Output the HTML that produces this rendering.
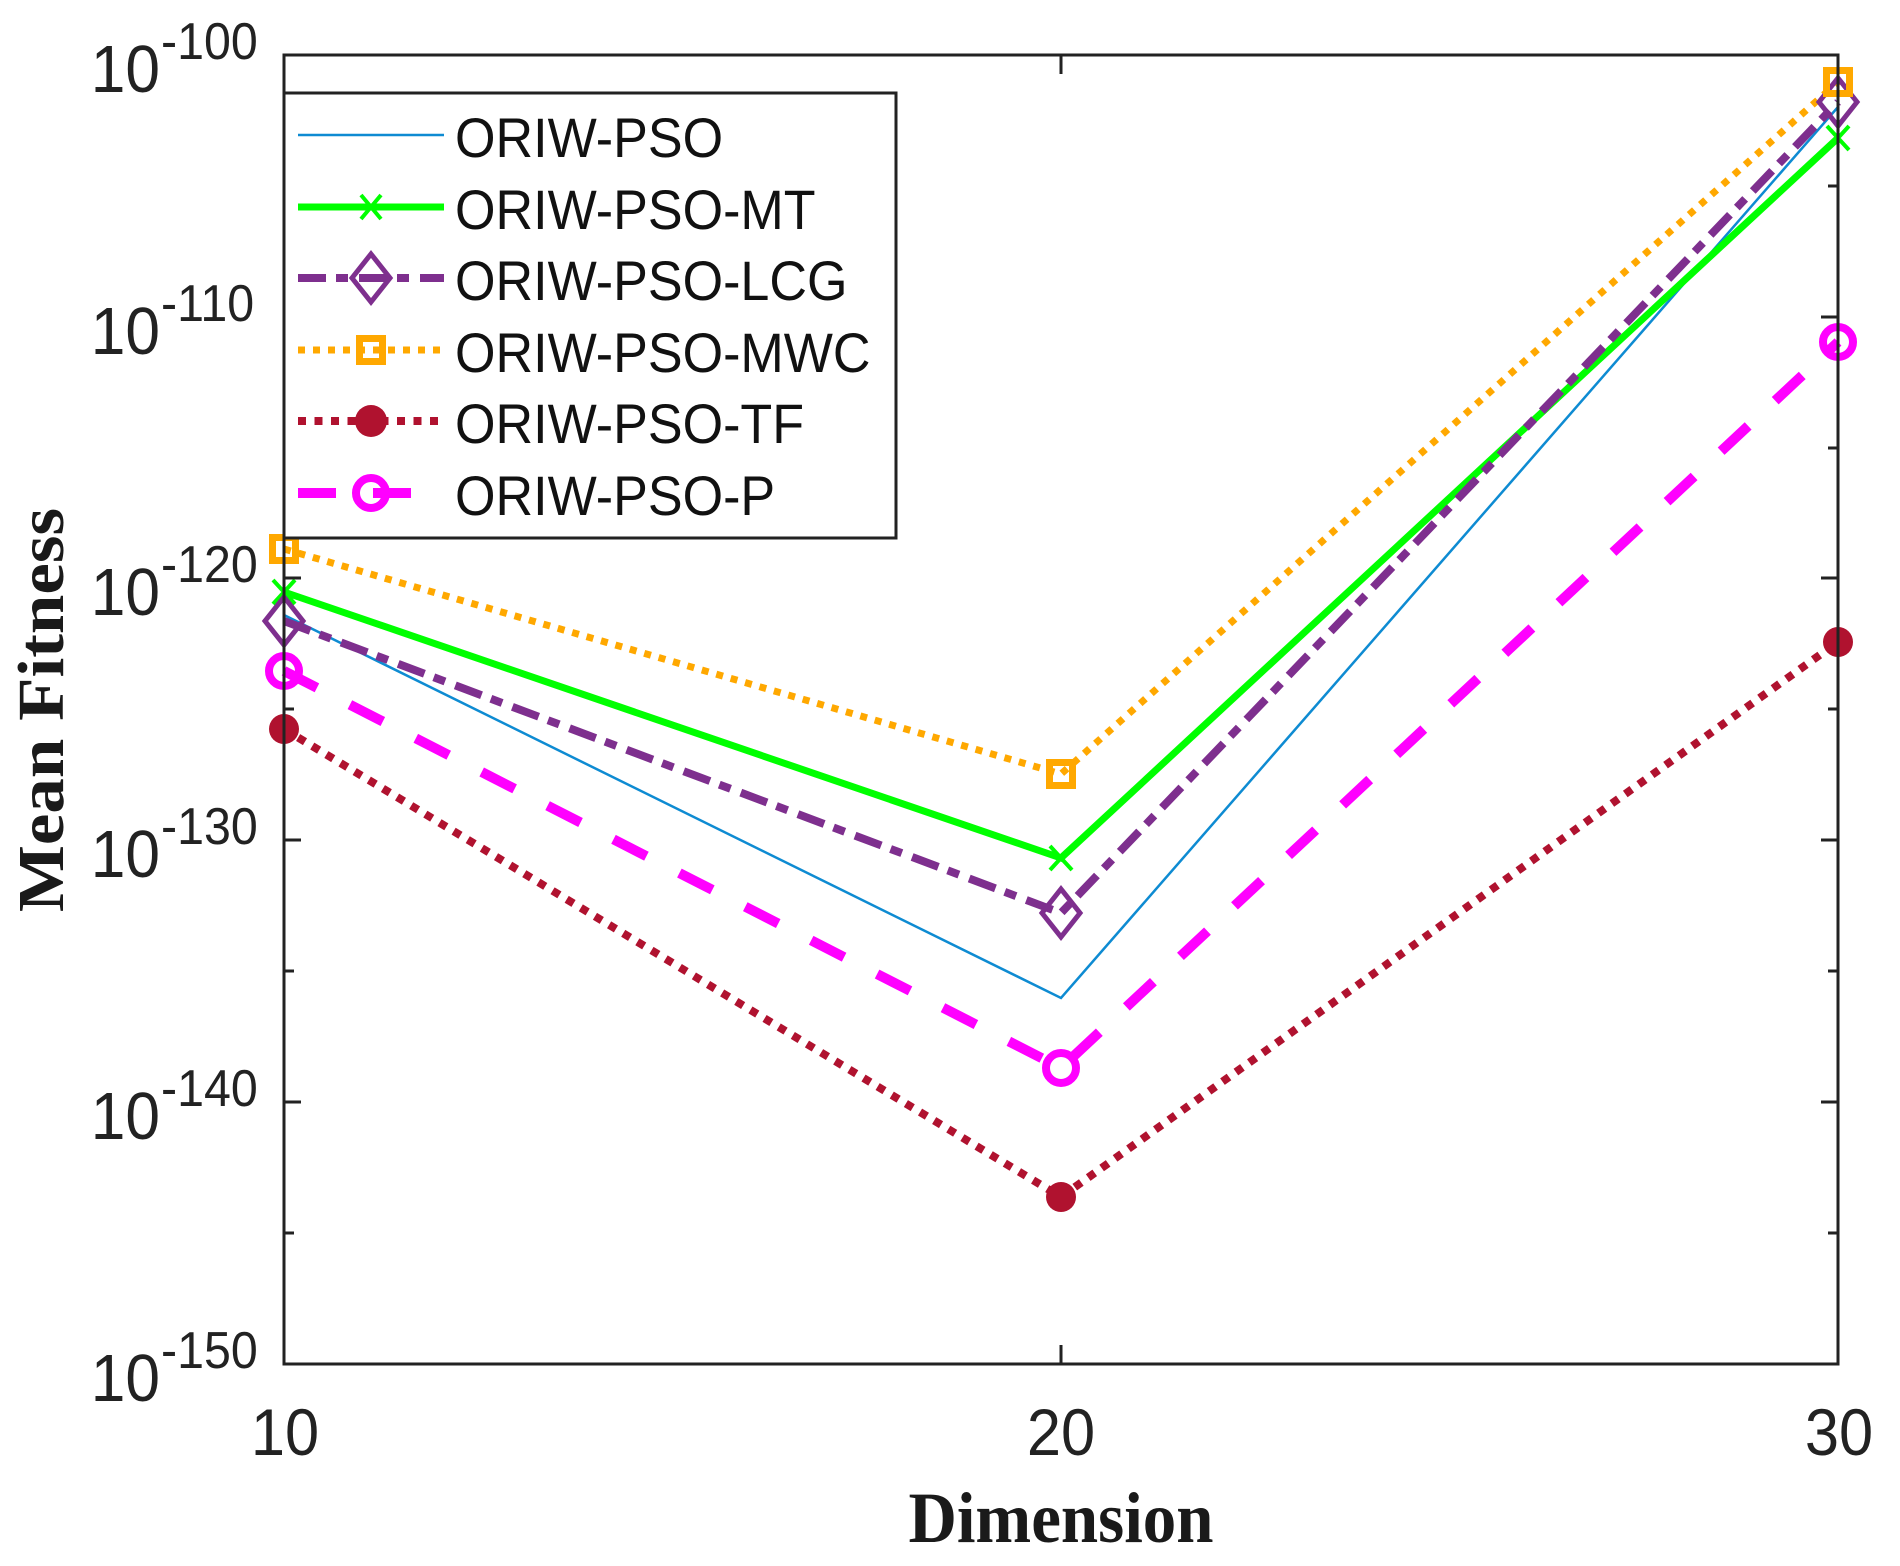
<!DOCTYPE html>
<html><head><meta charset="utf-8"><style>
html,body{margin:0;padding:0;background:#fff;}
svg{display:block;}
.tk{font-family:"Liberation Sans",Arial,sans-serif;fill:#222;}
.lb{font-family:"Liberation Serif","Times New Roman",serif;font-weight:bold;fill:#1a1a1a;}
</style></head><body>
<svg width="1900" height="1566" viewBox="0 0 1900 1566" xmlns="http://www.w3.org/2000/svg">
<rect x="0" y="0" width="1900" height="1566" fill="#fff"/>

<!-- series lines -->
<g fill="none">
  <path d="M284,615 L1061,998 L1838,107" stroke="#0E8BD2" stroke-width="2.5"/>
  <path d="M284,592 L1061,858 L1838,138" stroke="#00FF00" stroke-width="7"/>
  <path d="M284,621 L1061,913 L1838,102" stroke="#7E2F8E" stroke-width="8" stroke-dasharray="28 10 12 11"/>
  <path d="M284,549 L1061,774 L1838,82" stroke="#FFA800" stroke-width="7" stroke-dasharray="7 8"/>
  <path d="M284,729 L1061,1197 L1838,642" stroke="#B0122F" stroke-width="8" stroke-dasharray="8 8.5"/>
  <path d="M284,671 L1061,1068 L1838,342" stroke="#FF00FF" stroke-width="10" stroke-dasharray="37 37"/>
</g>

<!-- markers -->
<g stroke="#00FF00" stroke-width="4" fill="none">
  <path d="M273,580 L295,604 M295,580 L273,604"/>
  <path d="M1050,846 L1072,870 M1072,846 L1050,870"/>
  <path d="M1827,126 L1849,150 M1849,126 L1827,150"/>
</g>
<g stroke="#7E2F8E" stroke-width="5" fill="none">
  <polygon points="284,597 303,621 284,645 265,621"/>
  <polygon points="1061,889 1080,913 1061,937 1042,913"/>
  <polygon points="1838,78 1857,102 1838,126 1819,102"/>
</g>
<g stroke="#FFA800" stroke-width="7" fill="none">
  <rect x="272.5" y="537.5" width="23" height="23"/>
  <rect x="1049.5" y="762.5" width="23" height="23"/>
  <rect x="1826.5" y="70.5" width="23" height="23"/>
</g>
<g fill="#B0122F">
  <circle cx="284" cy="729" r="15"/>
  <circle cx="1061" cy="1197" r="15"/>
  <circle cx="1838" cy="642" r="15"/>
</g>
<g stroke="#FF00FF" stroke-width="8" fill="none">
  <circle cx="284" cy="671" r="15"/>
  <circle cx="1061" cy="1068" r="15"/>
  <circle cx="1838" cy="342" r="15"/>
</g>

<!-- axes box -->
<rect x="284" y="55" width="1554" height="1309" fill="none" stroke="#222" stroke-width="3"/>
<!-- x ticks -->
<g stroke="#222" stroke-width="3">
  <path d="M1061,1364 L1061,1345 M1061,55 L1061,74"/>
  <!-- y ticks -->
  <path d="M284,186 L294,186 M1838,186 L1828,186
           M284,317 L301,317 M1838,317 L1821,317
           M284,448 L294,448 M1838,448 L1828,448
           M284,578 L301,578 M1838,578 L1821,578
           M284,709 L294,709 M1838,709 L1828,709
           M284,840 L301,840 M1838,840 L1821,840
           M284,971 L294,971 M1838,971 L1828,971
           M284,1102 L301,1102 M1838,1102 L1821,1102
           M284,1233 L294,1233 M1838,1233 L1828,1233"/>
</g>

<!-- y tick labels -->
<g class="tk">
  <text transform="translate(160,92) scale(0.93,1)" font-size="67" text-anchor="end">10</text>
  <text transform="translate(161,59) scale(0.93,1)" font-size="52">-100</text>
  <text transform="translate(160,354) scale(0.93,1)" font-size="67" text-anchor="end">10</text>
  <text transform="translate(161,321) scale(0.93,1)" font-size="52">-110</text>
  <text transform="translate(160,615) scale(0.93,1)" font-size="67" text-anchor="end">10</text>
  <text transform="translate(161,582) scale(0.93,1)" font-size="52">-120</text>
  <text transform="translate(160,877) scale(0.93,1)" font-size="67" text-anchor="end">10</text>
  <text transform="translate(161,844) scale(0.93,1)" font-size="52">-130</text>
  <text transform="translate(160,1139) scale(0.93,1)" font-size="67" text-anchor="end">10</text>
  <text transform="translate(161,1106) scale(0.93,1)" font-size="52">-140</text>
  <text transform="translate(160,1401) scale(0.93,1)" font-size="67" text-anchor="end">10</text>
  <text transform="translate(161,1368) scale(0.93,1)" font-size="52">-150</text>
  <!-- x tick labels -->
  <text transform="translate(285,1455) scale(0.93,1)" font-size="66" text-anchor="middle">10</text>
  <text transform="translate(1061,1455) scale(0.93,1)" font-size="66" text-anchor="middle">20</text>
  <text transform="translate(1839,1455) scale(0.93,1)" font-size="66" text-anchor="middle">30</text>
</g>

<!-- axis labels -->
<text class="lb" transform="translate(1061,1542) scale(0.93,1)" font-size="72" text-anchor="middle">Dimension</text>
<text class="lb" transform="translate(63,710) rotate(-90) scale(1,0.93)" font-size="71" text-anchor="middle">Mean Fitness</text>

<!-- legend -->
<rect x="284" y="93" width="612" height="445" fill="#fff" stroke="#222" stroke-width="3"/>
<g fill="none">
  <path d="M298,135 L444,135" stroke="#0E8BD2" stroke-width="2.5"/>
  <path d="M298,207 L444,207" stroke="#00FF00" stroke-width="7"/>
  <path d="M361,195 L381,219 M381,195 L361,219" stroke="#00FF00" stroke-width="4"/>
  <path d="M298,278 L444,278" stroke="#7E2F8E" stroke-width="8" stroke-dasharray="28 10 12 11"/>
  <polygon points="371,254 390,278 371,302 352,278" stroke="#7E2F8E" stroke-width="5"/>
  <path d="M298,350 L444,350" stroke="#FFA800" stroke-width="7" stroke-dasharray="7 8"/>
  <rect x="359.5" y="338.5" width="23" height="23" stroke="#FFA800" stroke-width="7"/>
  <path d="M298,421 L444,421" stroke="#B0122F" stroke-width="8" stroke-dasharray="8 8.5"/>
  <circle cx="371" cy="421" r="16" fill="#B0122F"/>
  <path d="M298,493 L415,493" stroke="#FF00FF" stroke-width="10" stroke-dasharray="38 37"/>
  <circle cx="371" cy="493" r="15" stroke="#FF00FF" stroke-width="8"/>
</g>
<g class="tk" font-size="56" style="fill:#111">
  <text transform="translate(455,157) scale(0.93,1)">ORIW-PSO</text>
  <text transform="translate(455,229) scale(0.93,1)">ORIW-PSO-MT</text>
  <text transform="translate(455,300) scale(0.93,1)">ORIW-PSO-LCG</text>
  <text transform="translate(455,372) scale(0.93,1)">ORIW-PSO-MWC</text>
  <text transform="translate(455,443) scale(0.93,1)">ORIW-PSO-TF</text>
  <text transform="translate(455,515) scale(0.93,1)">ORIW-PSO-P</text>
</g>
</svg>
</body></html>
